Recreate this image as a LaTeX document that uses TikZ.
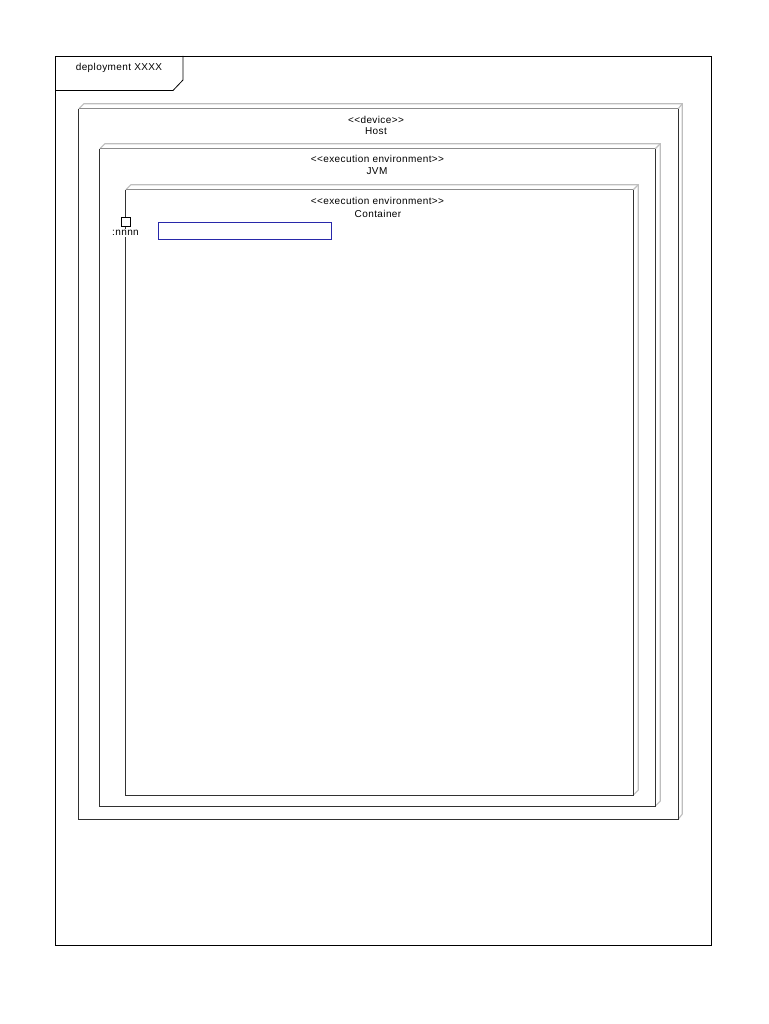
\documentclass[tikz,border=0pt]{standalone}
\usepackage{fontspec}
\setmainfont[Ligatures=NoCommon,LetterSpace=4]{Liberation Sans}
\usetikzlibrary{calc}
\definecolor{backgray}{RGB}{190,190,190}
\definecolor{topgray}{RGB}{140,140,140}
\definecolor{frontgray}{RGB}{50,50,50}
\definecolor{portblue}{RGB}{40,40,170}
\begin{document}
\begin{tikzpicture}[x=1pt,y=-1pt,
  frameline/.style={draw=black,line width=0.8pt},
  frontbox/.style={draw=none,rectangle,inner sep=0pt},
  frontedge/.style={draw=frontgray,line width=1pt},
  topedge/.style={draw=topgray,line width=1pt},
  backedge/.style={draw=backgray,line width=1.1pt},
  lbl/.style={font=\fontsize{10}{12}\selectfont,inner sep=0pt,text=black},
  portbox/.style={draw=black,fill=white,line width=0.7pt,minimum size=9pt,inner sep=0pt,rectangle},
  partbox/.style={draw=portblue,line width=0.8pt,rectangle,inner sep=0pt}
]
\useasboundingbox (0,0) rectangle (768,1024);
\fill[white] (0,0) rectangle (768,1024);

% outer frame
\node[frontbox,frameline,minimum width=656pt,minimum height=889pt] (frame) at (383,500.5) {};
\coordinate (tabA) at (55,90.5);
\coordinate (tabB) at (173,90.5);
\coordinate (tabC) at (183,80);
\coordinate (tabD) at (183,56);
\draw[frameline] (tabA) -- (tabB) -- (tabC) -- (tabD);
\node[lbl] (title) at (119,67.5) {deployment XXXX};

% Host device
\node[frontbox,minimum width=599pt,minimum height=710pt] (host) at (378.5,464) {};
\draw[backedge] (host.north west) -- ++(5,-5) -- ($(host.north east)+(4,-5)$) -- ($(host.south east)+(4,-5)$) -- (host.south east);
\draw[backedge] (host.north east) -- ++(4,-5);
\draw[topedge] (host.north west) -- (host.north east);
\draw[frontedge] (host.north east) -- (host.south east) -- (host.south west) -- (host.north west);
\node[lbl] (hostst) at (376,120) {<{}<device>{}>};
\node[lbl] (hostnm) at (376,131.5) {Host};

% JVM
\node[frontbox,minimum width=555pt,minimum height=657pt] (jvm) at (377.5,477.5) {};
\draw[backedge] (jvm.north west) -- ++(5,-5) -- ($(jvm.north east)+(5,-5)$) -- ($(jvm.south east)+(5,-5)$) -- (jvm.south east);
\draw[backedge] (jvm.north east) -- ++(5,-5);
\draw[topedge] (jvm.north west) -- (jvm.north east);
\draw[frontedge] (jvm.north east) -- (jvm.south east) -- (jvm.south west) -- (jvm.north west);
\node[lbl] (jvmst) at (377.5,158.5) {<{}<execution environment>{}>};
\node[lbl] (jvmnm) at (377,171) {JVM};

% Container
\node[frontbox,minimum width=507pt,minimum height=605pt] (cont) at (379.5,492.5) {};
\draw[backedge] (cont.north west) -- ++(5,-5) -- ($(cont.north east)+(5,-5)$) -- ($(cont.south east)+(5,-5)$) -- (cont.south east);
\draw[backedge] (cont.north east) -- ++(5,-5);
\draw[topedge] (cont.north west) -- (cont.north east);
\draw[frontedge] (cont.north east) -- (cont.south east) -- (cont.south west) -- (cont.north west);
\node[lbl] (contst) at (377.5,201) {<{}<execution environment>{}>};
\node[lbl] (contnm) at (378,213.5) {Container};

% port and part
\node[portbox] (port) at (125.7,221.5) {};
\node[lbl,fill=white,inner sep=1pt] (portlbl) at (125.5,233) {:nnnn};
\node[partbox,minimum width=173pt,minimum height=17pt] (part) at (244.5,230.5) {};
\end{tikzpicture}
\end{document}
